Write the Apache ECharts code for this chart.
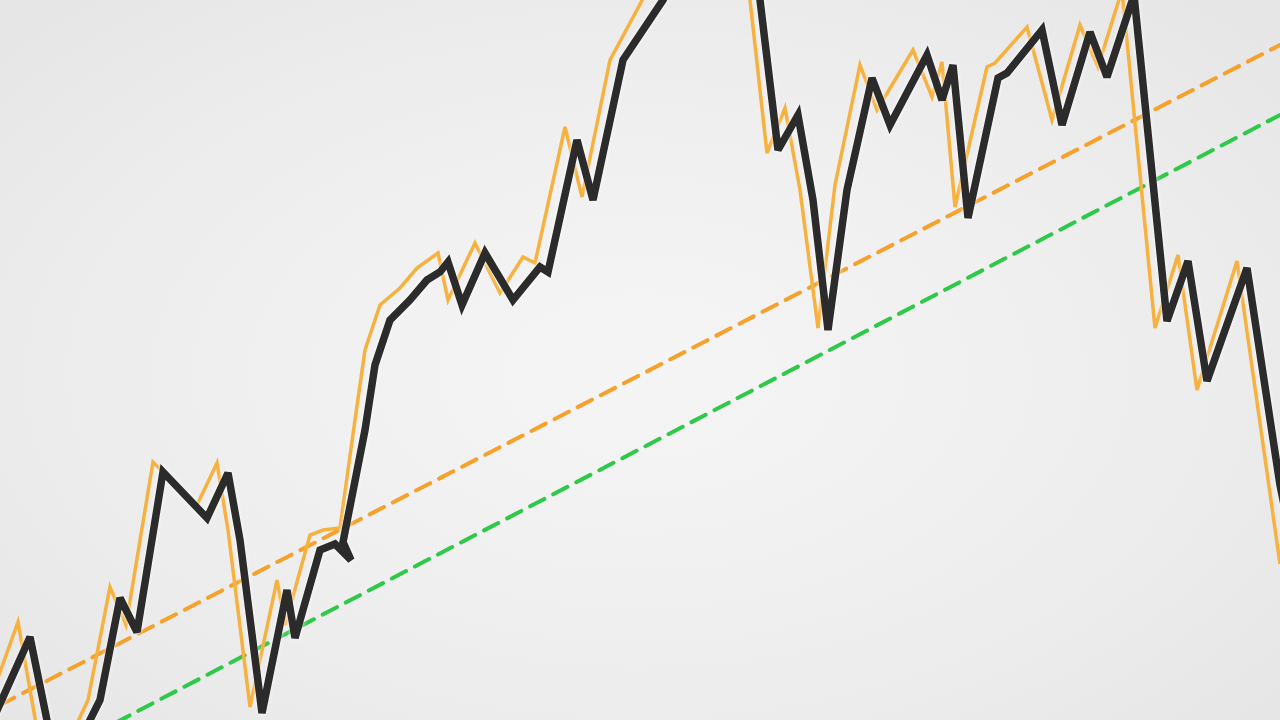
<!DOCTYPE html>
<html>
<head>
<meta charset="utf-8">
<script src="https://cdn.jsdelivr.net/npm/echarts@6/dist/echarts.min.js"></script>
<style>
html,body{margin:0;padding:0;width:1280px;height:720px;overflow:hidden;}
#chart{width:1280px;height:720px;background:radial-gradient(ellipse 75% 80% at 50% 52%, #f5f5f5 0%, #efefef 45%, #e4e4e4 100%);}
</style>
</head>
<body>
<div id="chart"></div>
<script>
// Main (black) price line: x position, value (0 = bottom edge, 720 = top edge)
const priceX = [-5, 30, 50, 80, 100, 120, 137, 163, 207, 228, 240, 262, 287, 295, 320, 335, 351, 343, 365, 375, 390, 410, 427, 440, 448, 462, 485, 513, 540, 548, 577, 593, 623, 663, 700, 752, 760, 778, 798, 813, 828, 847, 872, 890, 927, 942, 953, 968, 998, 1007, 1042, 1062, 1090, 1107, 1134, 1167, 1188, 1207, 1247, 1280, 1295];
const priceY = [5, 83, -15, -20, 20, 122, 88, 248, 202, 247, 180, 7, 130, 82, 170, 176, 160, 178, 290, 355, 400, 420, 440, 448, 458, 415, 467, 420, 453, 448, 580, 520, 660, 720, 790, 770, 720, 570, 605, 520, 390, 530, 642, 595, 665, 620, 655, 502, 642, 647, 690, 595, 688, 643, 725, 399, 459, 339, 452, 235, 160];

// Orange echo line
const echoX = [-10, 18, 38, 60, 88, 110, 126, 153, 197, 217, 228, 250, 277, 285, 310, 323, 340, 355, 365, 380, 400, 417, 438, 448, 475, 500, 523, 535, 565, 582, 610, 645, 690, 742, 750, 767, 785, 800, 818, 835, 860, 877, 913, 932, 942, 955, 987, 995, 1027, 1052, 1080, 1098, 1122, 1155, 1178, 1197, 1237, 1280];
const echoY = [20, 98, -15, -40, 20, 133, 95, 258, 215, 257, 190, 13, 140, 95, 185, 190, 192, 300, 370, 415, 432, 452, 467, 420, 477, 427, 463, 457, 593, 523, 660, 725, 800, 780, 720, 567, 612, 530, 392, 535, 655, 610, 670, 623, 658, 513, 653, 657, 693, 600, 695, 653, 730, 392, 465, 330, 459, 156];

// Trend lines (x, value)
const trendOrange = [[0, 15], [1280, 675]];
const trendGreen = [[0, -63], [1280, 605]];

const toPts = (xs, ys) => xs.map((x, i) => [x, ys[i]]);

const chart = echarts.init(document.getElementById('chart'), null, {renderer: 'canvas'});
chart.setOption({
  backgroundColor: 'transparent',
  animation: false,
  grid: {left: 0, right: 0, top: 0, bottom: 0},
  xAxis: {type: 'value', min: 0, max: 1280, show: false},
  yAxis: {type: 'value', min: 0, max: 720, show: false},
  series: [
    {
      type: 'line', data: trendGreen, showSymbol: false, z: 1,
      lineStyle: {color: '#2fc94a', width: 4, type: [16, 10], cap: 'round'}
    },
    {
      type: 'line', data: trendOrange, showSymbol: false, z: 1,
      lineStyle: {color: '#f5a12c', width: 4, type: [16, 10], cap: 'round'}
    },
    {
      type: 'line', data: toPts(echoX, echoY), showSymbol: false, z: 2, clip: true,
      lineStyle: {color: '#f7b13e', width: 3.5, join: 'miter', miterLimit: 4}
    },
    {
      type: 'line', data: toPts(priceX, priceY), showSymbol: false, z: 3, clip: true,
      lineStyle: {color: '#2b2b2b', width: 7.5, join: 'miter', miterLimit: 3, cap: 'round',
        shadowColor: 'rgba(255,255,255,0.9)', shadowBlur: 4}
    }
  ]
});
</script>
</body>
</html>
